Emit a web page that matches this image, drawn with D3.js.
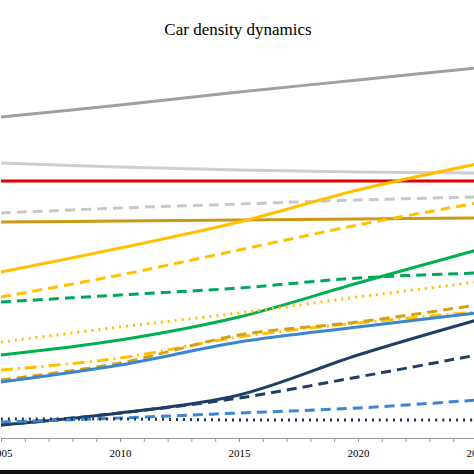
<!DOCTYPE html>
<html><head><meta charset="utf-8">
<script src="https://cdn.jsdelivr.net/npm/d3@7"></script>
<style>body{margin:0;background:#fff}</style>
</head><body>
<div id="chart"></div>
<script>
var width = 474, height = 474;
var years = [2005, 2010, 2015, 2020, 2025];
var tickYears = [2005, 2010, 2015, 2020, 2025];
// car density index (relative units) per series, one value per year above
var grayDark    = [323, 335, 348, 360, 372];
var grayLight   = [277, 273, 270, 268, 267];
var red         = [259, 259, 259, 259, 259];
var grayDashed  = [227, 232, 236, 240, 243];
var goldSolid   = [218, 219, 220, 221, 222];
var yellowSolid = [168, 192, 218, 250, 276];
var yellowDash  = [143, 165, 190, 215, 237];
var greenDash   = [138, 145, 152, 162, 167];
var greenSolid  = [85, 100, 123, 157, 190];
var yellowDot   = [98, 113, 127, 143, 158];
var yellowDDot  = [70, 82, 103, 117, 128];
var goldDash    = [60, 77, 105, 118, 135];
var blueSolid   = [58, 75, 98, 113, 127];
var navySolid   = [15, 27, 45, 85, 120];
var navyDash    = [15, 27, 42, 63, 85];
var blueDash    = [18, 22, 27, 32, 40];
var navyDot     = [21, 21, 20, 20, 20];

var series = [
  {v: grayDark,    c: "#a0a0a0", d: null},
  {v: grayLight,   c: "#cfcfcf", d: null},
  {v: red,         c: "#e00000", d: null},
  {v: grayDashed,  c: "#c8c8c8", d: "10,6"},
  {v: goldSolid,   c: "#cc9a14", d: null},
  {v: yellowSolid, c: "#ffc000", d: null},
  {v: yellowDash,  c: "#ffc000", d: "10,6"},
  {v: greenDash,   c: "#00a65a", d: "10,6"},
  {v: greenSolid,  c: "#00b050", d: null},
  {v: yellowDot,   c: "#ffc000", d: "2,5"},
  {v: yellowDDot,  c: "#ffc000", d: "12,5,2,5"},
  {v: goldDash,    c: "#d4a017", d: "10,6"},
  {v: blueSolid,   c: "#3a86d0", d: null},
  {v: navySolid,   c: "#1f3f66", d: null},
  {v: navyDash,    c: "#1f3f66", d: "10,6"},
  {v: blueDash,    c: "#3a86d0", d: "10,6"},
  {v: navyDot,     c: "#1f3350", d: "2,5"}
];

var svg = d3.select("#chart").append("svg")
  .attr("width", width).attr("height", height);

var x = d3.scaleLinear().domain([2005, 2025]).range([1, 477]);
var y = d3.scaleLinear().domain([0, 440]).range([440, 0]);

svg.append("text").attr("x", 238).attr("y", 35).attr("text-anchor", "middle")
  .style("font-family", "Liberation Serif, serif").style("font-size", "17px")
  .text("Car density dynamics");

var line = d3.line().x(function(d, i){ return x(years[i]); })
  .y(function(d){ return y(d); }).curve(d3.curveCatmullRom);

svg.append("g").selectAll("path").data(series).enter().append("path")
  .attr("d", function(s){ return line(s.v); })
  .attr("fill", "none")
  .attr("stroke", function(s){ return s.c; })
  .attr("stroke-width", 3)
  .attr("stroke-dasharray", function(s){ return s.d; });

var xAxis = d3.axisBottom(x).tickValues(d3.range(2005, 2026)).tickSize(4)
  .tickFormat(function(d){ return tickYears.indexOf(d) >= 0 ? d : ""; });
var ax = svg.append("g").attr("transform", "translate(0,438)").call(xAxis);
ax.select(".domain").attr("stroke", "#999");
ax.selectAll(".tick line").attr("stroke", "#999");
ax.selectAll("text").attr("dy", "1.1em")
  .style("font-family", "Liberation Serif, serif").style("font-size", "11px");

svg.append("rect").attr("x", 0).attr("y", 470).attr("width", width).attr("height", 4).attr("fill", "#111");
</script>
</body></html>
